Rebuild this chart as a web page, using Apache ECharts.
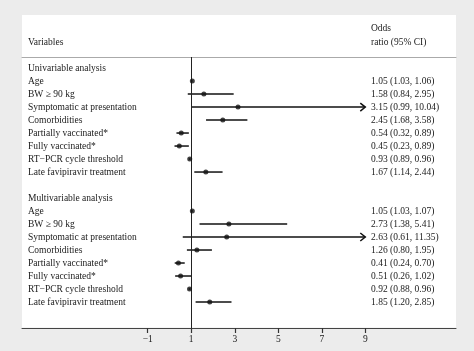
<!DOCTYPE html>
<html>
<head>
<meta charset="utf-8">
<script src="https://cdn.jsdelivr.net/npm/echarts@6/dist/echarts.min.js"></script>
<style>
  html, body { margin: 0; padding: 0; background: #ececec; }
  #chart { width: 474px; height: 351px; }
</style>
</head>
<body>
<div id="chart"></div>
<script>
// rows from top to bottom, '' = spacer row
var rowLabels = [
  'Univariable analysis', 'Age', 'BW \u2265 90 kg', 'Symptomatic at presentation', 'Comorbidities',
  'Partially vaccinated*', 'Fully vaccinated*', 'RT\u2212PCR cycle threshold', 'Late favipiravir treatment',
  '',
  'Multivariable analysis', 'Age', 'BW \u2265 90 kg', 'Symptomatic at presentation', 'Comorbidities',
  'Partially vaccinated*', 'Fully vaccinated*', 'RT\u2212PCR cycle threshold', 'Late favipiravir treatment'
];
var oddsRatio = [null, 1.05, 1.58, 3.15, 2.45, 0.54, 0.45, 0.93, 1.67, null, null, 1.05, 2.73, 2.63, 1.26, 0.41, 0.51, 0.92, 1.85];
var ciLower   = [null, 1.03, 0.84, 0.99, 1.68, 0.32, 0.23, 0.89, 1.14, null, null, 1.03, 1.38, 0.61, 0.80, 0.24, 0.26, 0.88, 1.20];
var ciUpper   = [null, 1.06, 2.95, 10.04, 3.58, 0.89, 0.89, 0.96, 2.44, null, null, 1.07, 5.41, 11.35, 1.95, 0.70, 1.02, 0.96, 2.85];
var xTicks = [-1, 1, 3, 5, 7, 9];

var FONT = 'Liberation Serif';
var FS = 9.5;
var TXT = '#1a1a1a';
var cap = xTicks[xTicks.length - 1];  // CIs beyond last tick get an arrow

var chart = echarts.init(document.getElementById('chart'));

var labelData = [], barData = [], pointData = [];
for (var i = 0; i < rowLabels.length; i++) {
  labelData.push([1, i]);
  if (oddsRatio[i] != null) {
    barData.push([ciLower[i], i, ciUpper[i]]);
    pointData.push([oddsRatio[i], i]);
  }
}

function fmt(v) { return v.toFixed(2); }

var option = {
  animation: false,
  graphic: [
    { type: 'rect', z: -10, silent: true, shape: { x: 22, y: 15, width: 434, height: 312.5 }, style: { fill: '#fff' } },
    { type: 'text', x: 28, y: 42, style: { text: 'Variables', font: FS + 'px "' + FONT + '"', fill: TXT, verticalAlign: 'middle' } },
    { type: 'text', x: 371, y: 28, style: { text: 'Odds', font: FS + 'px "' + FONT + '"', fill: TXT, verticalAlign: 'middle' } },
    { type: 'text', x: 371, y: 42, style: { text: 'ratio (95% CI)', font: FS + 'px "' + FONT + '"', fill: TXT, verticalAlign: 'middle' } }
  ],
  grid: { left: 22, right: 18, top: 57, bottom: 23 },
  xAxis: [{
    type: 'value', min: -6.78, max: 13.17,
    splitLine: { show: false },
    axisLine: { onZero: false, lineStyle: { color: '#444', width: 1 } },
    axisTick: { customValues: xTicks, length: 5, lineStyle: { color: '#333', width: 1.2 } },
    axisLabel: {
      customValues: xTicks, margin: 6, fontFamily: FONT, fontSize: FS, color: TXT,
      formatter: function (v) { return String(v).replace('-', '\u2212'); }
    }
  }, {
    type: 'value', position: 'top', min: -6.78, max: 13.17,
    splitLine: { show: false },
    axisLine: { show: true, onZero: false, lineStyle: { color: '#aaa', width: 1 } },
    axisTick: { show: false }, axisLabel: { show: false }
  }],
  yAxis: { type: 'value', inverse: true, min: -0.85, max: 20, show: false, splitLine: { show: false } },
  series: [
    {
      type: 'custom', data: labelData, silent: true, clip: false,
      renderItem: function (params, api) {
        var idx = api.value(1);
        var y = api.coord([1, idx])[1];
        var ch = [{ type: 'text', style: { text: rowLabels[idx], x: 28, y: y, font: FS + 'px "' + FONT + '"', fill: TXT, verticalAlign: 'middle' } }];
        if (oddsRatio[idx] != null) {
          ch.push({ type: 'text', style: {
            text: fmt(oddsRatio[idx]) + ' (' + fmt(ciLower[idx]) + ', ' + fmt(ciUpper[idx]) + ')',
            x: 371, y: y, font: FS + 'px "' + FONT + '"', fill: TXT, verticalAlign: 'middle' } });
        }
        return { type: 'group', children: ch };
      }
    },
    {
      type: 'custom', data: barData, silent: true, clip: false,
      renderItem: function (params, api) {
        var lo = api.value(0), idx = api.value(1), hi = api.value(2);
        var p0 = api.coord([lo, idx]);
        var over = hi > cap;
        var p1 = api.coord([over ? cap : hi, idx]);
        var st = { stroke: '#111', lineWidth: 1.5, fill: null };
        var ch = [{ type: 'line', shape: { x1: p0[0], y1: p0[1], x2: p1[0], y2: p1[1] }, style: st }];
        if (over) {
          ch.push({ type: 'polyline', shape: { points: [[p1[0] - 5, p1[1] - 4], [p1[0], p1[1]], [p1[0] - 5, p1[1] + 4]] }, style: st });
        }
        return { type: 'group', children: ch };
      }
    },
    {
      type: 'scatter', data: pointData, symbol: 'circle', symbolSize: 5,
      itemStyle: { color: '#111' }, z: 5,
      markLine: {
        silent: true, symbol: 'none', label: { show: false },
        lineStyle: { color: '#222', width: 1, type: 'solid' },
        data: [{ xAxis: 1 }]
      }
    }
  ]
};
chart.setOption(option);
</script>
</body>
</html>
